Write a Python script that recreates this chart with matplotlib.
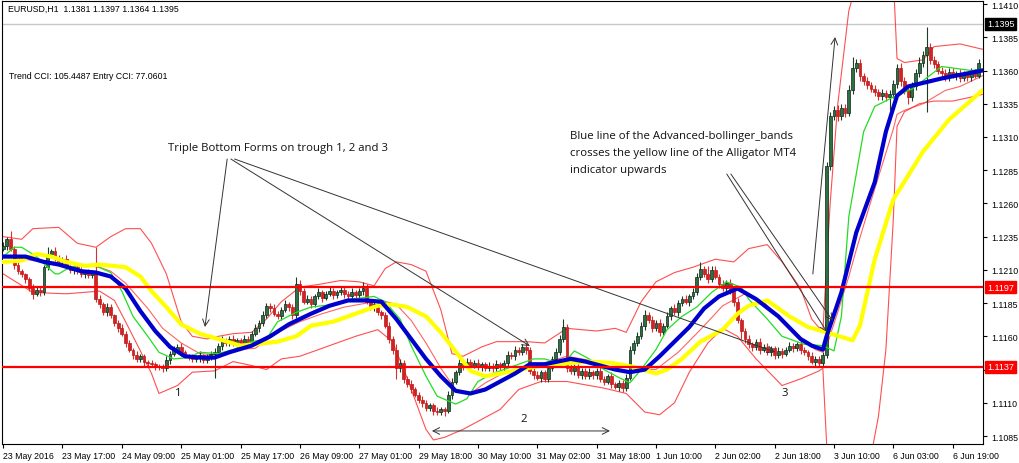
import matplotlib
matplotlib.use("Agg")
import matplotlib.pyplot as plt
import matplotlib.transforms as mtransforms

# prices are stored in pips above 1.1000
BASE = 1.1
PIP = 0.0001

tick_labels = ["23 May 2016", "23 May 17:00", "24 May 09:00", "25 May 01:00", "25 May 17:00",
               "26 May 09:00", "27 May 01:00", "29 May 18:00", "30 May 10:00", "31 May 02:00",
               "31 May 18:00", "1 Jun 10:00", "2 Jun 02:00", "2 Jun 18:00", "3 Jun 10:00",
               "6 Jun 03:00", "6 Jun 19:00"]

first_open = 226
closes = [
    228, 233, 226, 214, 209, 207, 203, 196, 192, 195, 193, 212, 222, 224, 219, 217,
    218, 213, 210, 212, 209, 207, 209, 206, 208, 188, 184, 178, 182, 176, 170, 166,
    162, 155, 150, 146, 143, 145, 141, 140, 139, 138, 137, 136, 142, 147, 150, 152,
    148, 146, 145, 143, 144, 146, 142, 145, 147, 148, 153, 157, 155, 158, 156, 157,
    155, 158, 155, 162, 166, 170, 176, 183, 181, 177, 175, 180, 184, 182, 176, 199,
    194, 186, 188, 184, 190, 193, 189, 192, 194, 191, 193, 195, 192, 190, 193, 191,
    194, 196, 186, 182, 184, 178, 176, 168, 158, 150, 136, 140, 128, 124, 120, 116,
    112, 110, 106, 108, 104, 103, 105, 104, 116, 126, 133, 140, 138, 141, 138, 140,
    137, 139, 136, 138, 136, 139, 137, 140, 146, 145, 150, 148, 152, 150, 134, 131,
    129, 133, 128, 136, 143, 148, 158, 167, 136, 134, 137, 131, 134, 130, 133, 131,
    134, 128, 126, 130, 124, 122, 125, 121, 129, 150, 155, 160, 168, 176, 172, 166,
    170, 163, 168, 175, 181, 178, 185, 188, 186, 190, 193, 205, 211, 207, 203, 210,
    205, 199, 196, 200, 194, 186, 172, 164, 158, 154, 152, 156, 150, 152, 148, 151,
    146, 149, 147, 150, 153, 151, 154, 150, 148, 145, 141, 143, 140, 146, 288, 326,
    330, 326, 332, 328, 345, 362, 366, 356, 352, 349, 346, 344, 341, 343, 340, 342,
    350, 362, 352, 345, 340, 348, 358, 366, 372, 378, 368, 365, 360, 358, 355, 359,
    356, 358, 354, 357, 355, 358, 356, 366]
upper_wick = [
    3, 2, 6, 2, 3, 2, 1, 2, 3, 2, 3, 2, 5, 2, 3, 2,
    2, 3, 1, 2, 2, 3, 1, 2, 2, 19, 3, 2, 3, 2, 1, 2,
    3, 2, 2, 1, 3, 2, 2, 1, 2, 2, 1, 2, 3, 2, 3, 2,
    3, 2, 1, 2, 2, 3, 1, 2, 2, 3, 2, 3, 2, 2, 3, 2,
    2, 3, 2, 2, 3, 2, 3, 2, 2, 3, 2, 2, 3, 2, 2, 6,
    3, 2, 3, 2, 2, 3, 2, 2, 3, 2, 2, 3, 2, 2, 3, 2,
    2, 5, 3, 2, 2, 3, 2, 2, 3, 2, 4, 3, 2, 2, 3, 2,
    2, 3, 2, 2, 2, 3, 2, 2, 3, 3, 2, 3, 2, 3, 2, 2,
    3, 2, 2, 3, 2, 3, 2, 2, 3, 2, 3, 2, 2, 3, 2, 2,
    3, 2, 2, 3, 2, 3, 3, 6, 2, 3, 2, 3, 2, 2, 3, 2,
    2, 3, 2, 2, 3, 2, 2, 2, 3, 3, 2, 3, 3, 4, 2, 3,
    2, 3, 2, 3, 2, 3, 2, 2, 3, 2, 3, 3, 5, 2, 6, 3,
    3, 2, 3, 2, 3, 2, 3, 2, 2, 3, 2, 2, 3, 2, 3, 2,
    2, 3, 2, 2, 3, 2, 2, 3, 2, 2, 3, 2, 2, 2, 3, 3,
    3, 4, 3, 3, 4, 8, 3, 3, 2, 3, 2, 3, 2, 3, 2, 3,
    3, 3, 4, 3, 2, 3, 3, 4, 3, 15, 3, 3, 2, 3, 3, 3,
    3, 2, 3, 3, 2, 4, 3, 3]
lower_wick = [
    2, 3, 2, 3, 2, 2, 3, 2, 4, 2, 3, 2, 2, 3, 2, 2,
    3, 2, 2, 3, 2, 2, 3, 2, 2, 2, 3, 2, 3, 2, 2, 3,
    2, 3, 2, 3, 2, 2, 3, 2, 2, 3, 2, 3, 2, 3, 2, 2,
    3, 2, 3, 2, 2, 3, 2, 2, 3, 18, 2, 3, 2, 2, 3, 2,
    2, 3, 2, 2, 2, 3, 2, 2, 3, 2, 2, 3, 2, 3, 3, 2,
    3, 2, 2, 3, 2, 2, 3, 2, 2, 3, 2, 2, 3, 2, 2, 3,
    2, 3, 2, 2, 3, 2, 3, 2, 3, 3, 8, 3, 3, 2, 3, 2,
    2, 3, 2, 2, 3, 2, 2, 4, 2, 3, 2, 2, 3, 2, 3, 2,
    2, 3, 2, 2, 3, 2, 2, 3, 2, 2, 3, 2, 2, 3, 2, 3,
    2, 3, 2, 2, 2, 3, 2, 2, 3, 2, 3, 2, 3, 2, 2, 3,
    3, 2, 3, 2, 3, 2, 3, 3, 2, 2, 3, 2, 2, 3, 2, 3,
    2, 3, 2, 2, 3, 2, 3, 2, 2, 3, 2, 2, 3, 2, 3, 2,
    2, 3, 2, 3, 2, 3, 2, 6, 3, 3, 3, 2, 3, 2, 2, 3,
    3, 2, 3, 2, 2, 3, 2, 3, 2, 3, 2, 3, 3, 2, 2, 3,
    3, 4, 3, 3, 2, 3, 3, 4, 3, 3, 2, 3, 3, 3, 3, 10,
    3, 3, 4, 3, 5, 3, 3, 3, 3, 43, 3, 3, 3, 2, 3, 3,
    2, 3, 3, 2, 3, 3, 2, 2]

# indicator lines (bar index, pips)
blue_x = [0, 6, 11, 15, 21, 25, 29, 33, 37, 41, 45, 49, 53, 57, 61, 67, 72, 77, 83, 88,
          93, 98, 102, 106, 110, 114, 118, 122, 126, 130, 134, 138, 142, 146, 153, 157, 161, 165, 169, 173,
          177, 181, 185, 189, 193, 198, 203, 209, 215, 218, 221, 222, 226, 230, 235, 238, 241, 244, 253, 264]
blue_y = [220, 220, 216, 214, 209, 208, 205, 196, 179, 164, 152, 145, 144, 144, 148, 153, 160, 169, 177, 183,
          187, 187, 186, 173, 158, 143, 130, 119, 117, 120, 126, 132, 139, 139, 143, 141, 138, 135, 133, 135,
          145, 156, 167, 181, 190, 196, 188, 175, 158, 153, 150, 160, 193, 238, 276, 314, 341, 348, 354, 360]

yellow_x = [0, 5, 9, 13, 17, 22, 26, 33, 37, 40, 44, 48, 53, 58, 64, 68, 74, 79, 83, 89,
            93, 97, 101, 105, 109, 114, 118, 123, 126, 130, 134, 145, 158, 164, 170, 176, 179, 183, 188, 194,
            198, 201, 206, 212, 217, 222, 229, 231, 235, 240, 248, 255, 264]
yellow_y = [216, 217, 222, 220, 216, 213, 214, 212, 205, 194, 182, 169, 162, 158, 153, 154, 156, 160, 168, 171,
            175, 179, 183, 184, 182, 175, 163, 145, 134, 130, 132, 138, 141, 140, 137, 132, 135, 143, 156, 165,
            177, 183, 187, 175, 167, 163, 157, 168, 218, 263, 299, 323, 345]

green_x = [0, 3, 5, 9, 12, 14, 15, 18, 22, 25, 29, 32, 35, 39, 42, 46, 50, 53, 58, 62,
           67, 71, 74, 79, 83, 89, 94, 100, 103, 107, 110, 114, 117, 122, 125, 128, 132, 138, 143, 146,
           151, 154, 158, 162, 166, 169, 172, 176, 179, 183, 187, 191, 195, 199, 201, 206, 210, 216, 221, 224,
           226, 228, 232, 235, 240, 245, 253, 261, 264]
green_y = [220, 227, 227, 220, 212, 207, 207, 212, 214, 213, 208, 194, 175, 160, 148, 143, 144, 148, 147, 150,
           156, 158, 171, 178, 182, 184, 188, 190, 186, 173, 153, 130, 115, 109, 113, 126, 132, 138, 143, 143,
           139, 149, 143, 135, 129, 125, 135, 150, 165, 175, 182, 193, 201, 197, 188, 173, 160, 154, 153, 149,
           175, 250, 314, 333, 340, 346, 363, 360, 361]

upper_x = [0, 5, 8, 15, 20, 25, 29, 33, 37, 40, 44, 48, 51, 55, 58, 62, 67, 71, 75, 80,
           85, 91, 96, 100, 103, 106, 110, 114, 118, 121, 124, 129, 133, 141, 146, 152, 160, 165, 168, 172,
           176, 181, 186, 192, 197, 201, 206, 210, 215, 218, 221, 222, 223, 225, 228, 230, 234, 238, 240, 241,
           243, 248, 251, 258, 264]
upper_y = [235, 233, 241, 242, 230, 227, 235, 241, 241, 230, 207, 171, 160, 158, 160, 162, 163, 173, 186, 197,
           199, 202, 201, 198, 211, 216, 214, 209, 180, 147, 145, 152, 156, 156, 155, 166, 164, 166, 163, 186,
           201, 208, 212, 218, 216, 226, 229, 216, 196, 173, 163, 214, 261, 334, 405, 425, 462, 464, 430, 369,
           366, 368, 378, 380, 376]

lower_x = [0, 8, 17, 26, 30, 33, 37, 40, 42, 47, 51, 57, 62, 67, 71, 75, 80, 88, 95, 101,
           105, 109, 112, 114, 116, 119, 124, 134, 139, 145, 152, 156, 162, 168, 173, 177, 181, 185, 190, 194,
           198, 203, 210, 215, 220, 221, 222, 223, 225, 228, 231, 234, 236, 238, 240, 241, 243, 247, 251, 256,
           261, 264]
lower_y = [207, 193, 192, 194, 187, 171, 149, 132, 117, 123, 133, 134, 141, 138, 135, 143, 145, 153, 160, 165,
           156, 128, 105, 90, 82, 84, 90, 105, 120, 126, 126, 124, 121, 117, 103, 101, 110, 133, 155, 166,
           160, 143, 123, 128, 134, 136, 80, 45, 15, 0, 10, 70, 100, 150, 248, 318, 329, 335, 337, 337,
           340, 342]

mid_x = [0, 8, 17, 26, 29, 33, 39, 43, 48, 53, 58, 63, 68, 74, 80, 86, 92, 98, 102, 106,
         110, 114, 118, 122, 126, 130, 134, 140, 146, 152, 158, 164, 170, 176, 182, 188, 194, 200, 205, 210,
         215, 219, 221, 222, 223, 225, 228, 230, 234, 238, 240, 241, 243, 248, 254, 258, 264]
mid_y = [221, 217, 215, 212, 209, 200, 181, 166, 155, 147, 146, 150, 151, 163, 171, 177, 182, 185, 187, 184,
         172, 155, 136, 120, 117, 125, 131, 136, 140, 145, 142, 140, 136, 135, 148, 165, 183, 192, 186, 172,
         158, 150, 148, 152, 161, 178, 205, 225, 262, 298, 316, 327, 330, 335, 345, 348, 356]

resistance = 1.1197
support = 1.1137
last_price = 1.1395


def to_price(vals):
    return [BASE + v * PIP for v in vals]


plt.rcParams["font.family"] = ["Liberation Sans", "DejaVu Sans"]

fig = plt.figure(figsize=(10.2, 4.64), dpi=100)
ax = fig.add_axes([0.002, 0.041, 0.9618, 0.9547])
ax.set_xlim(-0.3, 264.2)
ax.set_ylim(1.10790, 1.14123)

# candles
bars = list(range(len(closes)))
opens = [first_open] + closes[:-1]
for i in bars:
    o, c = opens[i], closes[i]
    hi = max(o, c) + upper_wick[i]
    lo = min(o, c) - lower_wick[i]
    bull = c >= o
    wick_col = "#1e3b26" if bull else "#d83030"
    ax.vlines(i, BASE + lo * PIP, BASE + hi * PIP, colors=wick_col, lw=0.8, zorder=3)
    h = max(abs(c - o), 0.4) * PIP
    ax.bar(i, h, bottom=BASE + min(o, c) * PIP, width=0.75,
           color="#2e7040" if bull else "#d42222",
           edgecolor="#10231a" if bull else "#c01818", lw=0.5, zorder=3)

# bollinger bands and moving averages
ax.plot(upper_x, to_price(upper_y), color="#ff3030", lw=0.8, alpha=0.85, zorder=2)
ax.plot(lower_x, to_price(lower_y), color="#ff3030", lw=0.8, alpha=0.85, zorder=2)
ax.plot(mid_x, to_price(mid_y), color="#ff3030", lw=0.8, alpha=0.75, zorder=2)
ax.plot(green_x, to_price(green_y), color="#22dd22", lw=0.9, zorder=4)
ax.plot(yellow_x, to_price(yellow_y), color="#ffff00", lw=3, zorder=5, solid_joinstyle="round")
ax.plot(blue_x, to_price(blue_y), color="#0000cc", lw=3, zorder=6, solid_joinstyle="round")

# levels
ax.axhline(last_price, color="#c8c8c8", lw=1, zorder=1)
ax.axhline(resistance, color="#ff0000", lw=1.6, zorder=7)
ax.axhline(support, color="#ff0000", lw=1.6, zorder=7)

# axes look
for s in ax.spines.values():
    s.set_color("black")
    s.set_linewidth(0.8)
ax.yaxis.tick_right()
yt = [1.1085 + 0.0025 * k for k in range(14)]
ax.set_yticks(yt, [f"{v:.4f}" for v in yt])
ax.set_xticks([16 * k for k in range(len(tick_labels))], tick_labels)
for lab in ax.get_xticklabels():
    lab.set_ha("left")
ax.tick_params(axis="both", labelsize=6.3, length=3, width=0.8, pad=2, colors="black")
ax.tick_params(axis="y", pad=3)

trans = mtransforms.blended_transform_factory(ax.transAxes, ax.transData)
for val, bg in [(last_price, "black"), (resistance, "#ff0000"), (support, "#ff0000")]:
    ax.text(1.004, val, f"{val:.4f}", transform=trans, ha="left", va="center", fontsize=6.5,
            color="white", zorder=20, clip_on=False,
            bbox=dict(boxstyle="square,pad=0.2", fc=bg, ec=bg))

ax.text(0.006, 0.993, "EURUSD,H1  1.1381 1.1397 1.1364 1.1395", transform=ax.transAxes,
        ha="left", va="top", fontsize=6.3)
ax.text(7 / 981, 1.13566, "Trend CCI: 105.4487 Entry CCI: 77.0601", transform=trans,
        ha="left", va="center", fontsize=6.3)

# annotations
note_font = dict(family="Open Sans", fontsize=8.2, color="#111111")
arrow = dict(arrowstyle="->", color="#333333", lw=0.7, shrinkA=0, shrinkB=0, mutation_scale=12)
ax.text(44.5, 1.13024, "Triple Bottom Forms on trough 1, 2 and 3", ha="left", va="center",
        zorder=10, **note_font)
for tx, ty, sx in [(54.4, 1.11670, 60.4), (142.0, 1.11527, 61.4), (208.1, 1.11482, 62.4)]:
    ax.annotate("", xy=(tx, ty), xytext=(sx, 1.12934), arrowprops=arrow, zorder=10)

ax.text(152.8, 1.13150, "Blue line of the Advanced-bollinger_bands\ncrosses the yellow line of the Alligator MT4\nindicator upwards",
        ha="left", va="top", linespacing=1.75, zorder=10, **note_font)
ax.annotate("", xy=(222.1, 1.11633), xytext=(195.1, 1.12821), arrowprops=arrow, zorder=10)
ax.annotate("", xy=(223.7, 1.11715), xytext=(196.2, 1.12821), arrowprops=arrow, zorder=10)
ax.annotate("", xy=(224.3, 1.13852), xytext=(218.3, 1.12069), arrowprops=arrow, zorder=10)
ax.annotate("", xy=(115.6, 1.10888), xytext=(163.6, 1.10888),
            arrowprops=dict(arrowstyle="<->", color="#333333", lw=0.7, shrinkA=0, shrinkB=0,
                            mutation_scale=12), zorder=10)

for label, bx, by in [("1", 47.2, 1.11174), ("2", 140.4, 1.10978), ("3", 210.8, 1.11174)]:
    ax.text(bx, by, label, ha="center", va="center", zorder=10, **note_font)

fig.savefig("out.png", dpi=100)
